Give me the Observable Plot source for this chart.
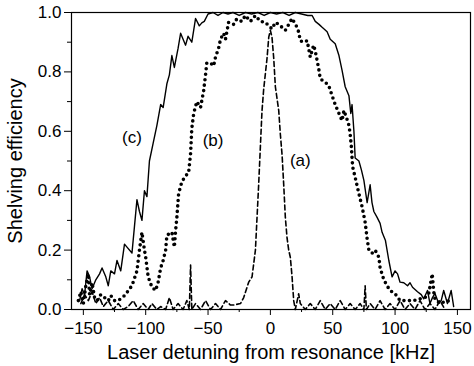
<!DOCTYPE html>
<html>
<head>
<meta charset="utf-8">
<script src="https://cdn.jsdelivr.net/npm/d3@7"></script>
<script src="https://cdn.jsdelivr.net/npm/@observablehq/plot@0.6"></script>
<style>
  html, body { margin: 0; padding: 0; background: #fff; }
</style>
</head>
<body>
<div id="chart"></div>
<script>
// (a) dashed curve
const aX = [-152,-149,-146,-143,-140,-137,-134,-130,-126,-122,-118,-114,-110,-106,-102,-98,-95,-91,-88,-84,-81,-78,-74,-70,-67,-65,-64,-63,-60,-56,-52,-48,-44,-40,-36,-32,-29.5,-24,-21.4,-17.4,-14.7,-12,-10.7,-9.4,-8,-6.7,-5.4,-2.7,-1.3,0,1.3,2.7,4,6.7,8,9.4,10.7,12,13.4,14.7,16,17.4,18.7,20,22.7,24,28,32,36,40,44,48,52,56,60,64,68,72,75,76,77,80,84,88,92,96,100,104,108,112,116,120,124,128,132,136,140];
const aY = [0.02,0.05,0.03,0.06,0.02,0.04,0.01,0.03,0.0,0.02,0.0,0.01,0.03,0.0,0.02,0.0,0.02,0.0,0.01,0.0,0.04,0.0,0.02,0.0,0.03,0.0,0.15,0.0,0.02,0.0,0.03,0.0,0.02,0.0,0.03,0.015,0.015,0.02,0.04,0.092,0.11,0.2,0.31,0.42,0.55,0.67,0.74,0.845,0.917,0.94,0.917,0.845,0.75,0.67,0.59,0.52,0.42,0.31,0.24,0.2,0.176,0.11,0.03,0.0,0.053,0.02,0.0,0.02,0.0,0.03,0.0,0.02,0.0,0.03,0.0,0.02,0.0,0.02,0.0,0.08,0.0,0.02,0.0,0.03,0.0,0.02,0.0,0.03,0.0,0.02,0.0,0.03,0.0,0.02,0.0,0.03,0.0];

// (b) dotted curve
const bX = [-154,-152,-150,-148,-146,-145,-143,-141,-139,-136,-133,-130,-128,-125,-122,-119,-116,-114,-111,-107,-105,-103,-101,-100,-98,-95,-92,-90,-88,-86,-84,-83,-79,-77,-76,-75,-73.6,-71,-68,-65.6,-64,-63,-61.5,-59,-56,-53.5,-52,-51,-48,-45.5,-44,-41.5,-40,-37.5,-36,-33.5,-29.5,-27,-23,-20,-16,-12,-8,-4,-1.6,1.3,4,6.7,9.4,12,14.7,17.4,21.4,22.7,24,26.7,29.5,32,34.7,36,38.8,40,44,46.7,49.5,52,55,57.5,59,61.5,63,64,65,65.5,66,68,71,73.6,76,77.6,79,81.6,84,87,88,91,93.6,96,100,104,110,115,120,124,127,129.8,131,132,136,142,146];
const bY = [0.03,0.06,0.02,0.08,0.12,0.05,0.09,0.04,0.03,0.05,0.04,0.03,0.047,0.03,0.03,0.04,0.05,0.064,0.08,0.13,0.2,0.26,0.2,0.176,0.11,0.075,0.064,0.092,0.14,0.165,0.2,0.25,0.26,0.21,0.266,0.31,0.39,0.43,0.45,0.46,0.525,0.61,0.66,0.7,0.68,0.737,0.79,0.83,0.83,0.82,0.85,0.88,0.91,0.93,0.91,0.967,0.96,0.978,0.97,0.99,0.97,0.99,0.97,0.967,0.956,0.945,0.967,0.96,0.95,0.94,0.96,0.98,0.95,0.934,0.905,0.9,0.905,0.85,0.89,0.87,0.81,0.777,0.765,0.755,0.72,0.69,0.66,0.636,0.67,0.64,0.62,0.59,0.546,0.51,0.48,0.445,0.39,0.345,0.294,0.238,0.2,0.19,0.2,0.176,0.14,0.1,0.08,0.064,0.053,0.03,0.03,0.03,0.036,0.04,0.053,0.12,0.06,0.036,0.02,0.03,0.02];

// (c) solid curve
const cX = [-153,-151,-149,-147,-145,-143,-140,-137,-135,-132,-130,-128,-125,-123,-120,-117,-115,-111,-109,-107,-105,-103,-101,-99,-97,-94,-91,-88,-86,-83,-81,-79,-77,-74,-72,-70,-68,-66,-63,-60,-57,-55,-53,-50,-46,-42,-38,-34,-30,-25,-20,-15,-10,-5,0,5,10,15,20,25,30,33.5,36,39,41.5,45.5,48,52,55,57.5,60,63,64.5,65.5,67,68,71,73,75,77.6,80,81.5,83,85.6,88,89.6,92.3,95,97.6,100,102,104,107,110,112,114,118,121,123,126,128,130,132,135,137,139,142,145,147];
const cY = [0.03,0.07,0.05,0.13,0.11,0.07,0.1,0.12,0.14,0.11,0.08,0.13,0.12,0.165,0.13,0.22,0.21,0.19,0.28,0.37,0.33,0.3,0.4,0.38,0.5,0.56,0.62,0.69,0.68,0.76,0.79,0.855,0.815,0.88,0.93,0.91,0.89,0.92,0.9,0.98,0.955,0.965,0.97,0.995,1.0,0.99,1.0,0.995,1.0,0.99,1.0,0.995,1.0,0.99,1.0,0.995,1.0,0.99,1.0,0.995,0.99,0.99,0.97,0.96,0.95,0.935,0.91,0.895,0.855,0.805,0.75,0.72,0.66,0.69,0.6,0.51,0.5,0.47,0.435,0.36,0.42,0.36,0.33,0.31,0.29,0.26,0.232,0.165,0.11,0.13,0.12,0.092,0.09,0.08,0.09,0.075,0.06,0.05,0.036,0.064,0.02,0.04,0.054,0.02,0.03,0.064,0.02,0.064,0.01];

// curve labels
const labelText = ["(a)", "(b)", "(c)"];
const labelX = [24, -46, -111];
const labelY = [0.50, 0.57, 0.58];

// ticks
const xTicks = [-150, -100, -50, 0, 50, 100, 150];
const xMinor = [-125, -75, -25, 25, 75, 125];
const yTicks = [0, 0.2, 0.4, 0.6, 0.8, 1.0];
const yMinor = [0.1, 0.3, 0.5, 0.7, 0.9];

const xTitle = "Laser detuning from resonance [kHz]";
const yTitle = "Shelving efficiency";

const toRows = (xs, ys) => xs.map((x, i) => ({x, y: ys[i]}));
const rowsA = toRows(aX, aY);
const rowsB = toRows(bX, bY);
const rowsC = toRows(cX, cY);
const labels = labelText.map((t, i) => ({t, x: labelX[i], y: labelY[i]}));

const chart = Plot.plot({
  width: 474,
  height: 366,
  marginLeft: 71,
  marginRight: 4,
  marginTop: 12,
  marginBottom: 57,
  style: {fontFamily: "'Liberation Sans', Arial, sans-serif", fontSize: "17px", color: "black", background: "white"},
  x: {domain: [-159.5, 160.5]},
  y: {domain: [0, 1]},
  marks: [
    Plot.line(rowsC, {x: "x", y: "y", stroke: "black", strokeWidth: 1.4}),
    Plot.line(rowsB, {x: "x", y: "y", stroke: "black", strokeWidth: 3.6, strokeDasharray: "0,5.5", strokeLinecap: "round"}),
    Plot.line(rowsA, {x: "x", y: "y", stroke: "black", strokeWidth: 1.6, strokeDasharray: "5,3"}),
    Plot.frame({stroke: "black", strokeWidth: 1.2}),
    Plot.axisX(xTicks, {tickSize: 6, tickPadding: 6, label: null, stroke: "black", fill: "black"}),
    Plot.axisX(xMinor, {tickSize: 3, text: null, label: null, stroke: "black"}),
    Plot.axisY(yTicks, {tickSize: 7, tickPadding: 3, tickFormat: d3.format(".1f"), label: null, stroke: "black", fill: "black"}),
    Plot.axisY(yMinor, {tickSize: 4, text: null, label: null, stroke: "black"}),
    Plot.text(labels, {x: "x", y: "y", text: "t", fontSize: 17, fill: "black"}),
    Plot.text([xTitle], {frameAnchor: "bottom", textAnchor: "middle", lineAnchor: "middle", dy: 43, fontSize: 20, fill: "black"}),
    Plot.text([yTitle], {frameAnchor: "left", textAnchor: "middle", lineAnchor: "middle", dx: -56, rotate: -90, fontSize: 20, fill: "black"})
  ]
});
document.getElementById("chart").appendChild(chart);
</script>
</body>
</html>
